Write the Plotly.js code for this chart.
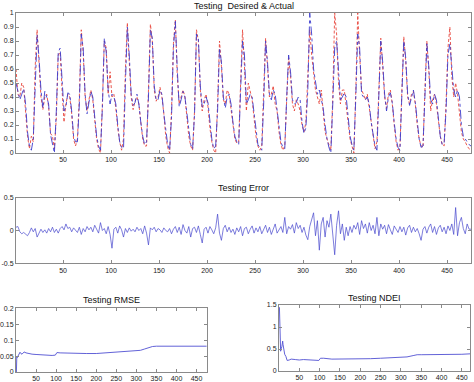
<!DOCTYPE html>
<html>
<head>
<meta charset="utf-8">
<script src="https://cdn.plot.ly/plotly-3.0.1.min.js"></script>
<style>html,body{margin:0;padding:0;background:#fff;}#chart{width:474px;height:382px;}</style>
</head>
<body>
<div id="chart"></div>
<script>
// Samples are plotted at every second index (1, 3, 5, ... 475)
const sampleStart = 1;
const sampleStep = 2;

const desired = [
  0.60,0.42,0.40,0.50,0.47,0.32,0.12,0.03,0.12,0.08,
  0.62,0.88,0.66,0.40,0.31,0.40,0.42,0.33,0.14,0.12,
  0.03,0.25,0.70,0.72,0.45,0.22,0.35,0.42,0.40,0.28,
  0.10,0.05,0.10,0.40,0.88,0.72,0.40,0.30,0.38,0.45,
  0.38,0.25,0.10,0.03,0.00,0.35,0.80,0.75,0.42,0.58,
  0.40,0.42,0.32,0.18,0.08,0.02,0.10,0.60,0.93,0.65,
  0.40,0.31,0.37,0.40,0.35,0.22,0.10,0.05,0.05,0.45,
  0.92,0.80,0.45,0.37,0.40,0.47,0.40,0.28,0.12,0.04,
  0.00,0.30,0.78,0.95,0.55,0.35,0.40,0.45,0.40,0.28,
  0.12,0.05,0.02,0.30,0.88,0.80,0.45,0.30,0.38,0.42,
  0.33,0.18,0.08,0.02,0.00,0.35,0.80,0.62,0.38,0.35,
  0.45,0.42,0.32,0.20,0.10,0.07,0.08,0.50,0.88,0.62,
  0.30,0.50,0.45,0.38,0.25,0.12,0.05,0.02,0.05,0.40,
  0.82,0.62,0.40,0.42,0.48,0.35,0.30,0.15,0.06,0.02,
  0.05,0.38,0.68,0.55,0.35,0.30,0.38,0.35,0.30,0.20,
  0.15,0.22,0.50,0.88,0.70,0.55,0.45,0.40,0.35,0.45,
  0.30,0.15,0.10,0.05,0.02,0.40,1.00,0.85,0.50,0.35,
  0.45,0.45,0.35,0.22,0.10,0.04,0.00,0.45,1.00,0.70,
  0.45,0.42,0.38,0.42,0.32,0.20,0.10,0.03,0.08,0.45,
  0.82,0.62,0.40,0.32,0.42,0.45,0.35,0.20,0.08,0.02,
  0.05,0.45,0.83,0.65,0.40,0.35,0.42,0.44,0.35,0.20,
  0.10,0.05,0.04,0.45,0.80,0.60,0.30,0.38,0.42,0.35,
  0.22,0.12,0.06,0.05,0.35,0.75,0.90,0.55,0.40,0.50,
  0.42,0.30,0.15,0.10,0.08,0.05,0.03,0.02
];

const actual = [
  0.50,0.45,0.38,0.42,0.46,0.35,0.15,0.05,0.02,0.10,
  0.55,0.84,0.68,0.45,0.32,0.44,0.40,0.35,0.13,0.05,
  0.00,0.30,0.72,0.75,0.50,0.30,0.33,0.43,0.42,0.30,
  0.12,0.08,0.08,0.35,0.85,0.75,0.42,0.28,0.36,0.44,
  0.40,0.25,0.12,0.05,0.02,0.32,0.82,0.72,0.45,0.35,
  0.42,0.40,0.35,0.20,0.08,0.04,0.03,0.50,0.90,0.70,
  0.42,0.34,0.36,0.42,0.35,0.22,0.12,0.06,0.08,0.40,
  0.88,0.82,0.48,0.38,0.38,0.45,0.42,0.28,0.15,0.06,
  0.02,0.25,0.75,0.94,0.60,0.33,0.38,0.44,0.40,0.28,
  0.15,0.06,0.03,0.28,0.85,0.82,0.48,0.33,0.35,0.40,
  0.36,0.20,0.10,0.03,0.05,0.30,0.75,0.65,0.40,0.32,
  0.40,0.42,0.35,0.22,0.12,0.08,0.06,0.45,0.80,0.70,
  0.35,0.38,0.42,0.40,0.28,0.15,0.06,0.04,0.02,0.35,
  0.80,0.65,0.42,0.38,0.45,0.42,0.30,0.18,0.08,0.04,
  0.03,0.40,0.70,0.58,0.38,0.35,0.36,0.40,0.38,0.22,
  0.14,0.18,0.45,1.00,0.85,0.60,0.50,0.42,0.45,0.38,
  0.32,0.20,0.10,0.04,0.00,0.35,0.75,0.80,0.55,0.38,
  0.40,0.43,0.40,0.25,0.12,0.06,0.02,0.40,0.85,0.75,
  0.42,0.40,0.38,0.40,0.35,0.22,0.12,0.05,0.02,0.40,
  0.80,0.65,0.42,0.30,0.40,0.43,0.36,0.22,0.10,0.04,
  0.02,0.42,0.80,0.68,0.42,0.34,0.40,0.45,0.36,0.22,
  0.10,0.04,0.05,0.40,0.78,0.62,0.38,0.35,0.42,0.38,
  0.25,0.12,0.06,0.07,0.30,0.70,0.78,0.60,0.45,0.40,
  0.45,0.40,0.20,0.12,0.10,0.08,0.06,0.05
];

const testError = [
  0.05,0.06,-0.02,-0.05,-0.03,-0.06,-0.08,-0.03,0.04,-0.02,
  0.03,-0.10,-0.04,0.02,-0.03,0.01,-0.04,0.03,-0.02,0.05,
  -0.03,0.02,-0.04,0.03,0.06,0.01,0.10,0.03,0.05,-0.02,
  0.04,0.01,-0.03,0.05,-0.06,0.03,-0.02,0.06,0.01,0.05,
  -0.02,0.08,0.02,-0.04,0.12,0.00,0.03,-0.05,0.06,-0.06,
  -0.27,0.02,0.05,-0.04,0.07,0.01,-0.10,0.03,-0.03,0.04,
  -0.01,0.02,-0.02,0.05,0.00,0.03,-0.05,0.07,-0.04,-0.22,
  0.04,0.01,0.05,-0.02,0.03,0.01,-0.03,0.04,0.00,-0.02,
  0.03,-0.05,0.02,0.06,-0.03,0.05,-0.06,0.09,0.00,-0.04,
  0.06,-0.10,0.03,0.05,-0.03,0.07,-0.06,-0.19,0.02,0.05,
  -0.04,0.06,0.01,-0.05,0.04,0.25,-0.04,-0.15,0.03,0.08,
  -0.02,0.05,-0.03,0.02,-0.06,0.04,-0.02,0.06,-0.08,0.03,
  0.05,-0.05,0.02,0.07,-0.04,0.04,-0.02,0.06,-0.05,0.03,
  0.08,-0.03,0.05,-0.06,0.04,0.10,-0.04,0.02,0.06,-0.03,
  0.20,-0.05,0.06,0.02,0.09,-0.04,0.12,0.03,0.08,-0.03,
  0.05,-0.07,-0.14,0.06,0.18,0.27,-0.08,0.15,-0.30,0.10,
  0.20,-0.10,0.15,0.05,0.25,-0.12,-0.37,0.08,0.30,-0.05,
  0.10,-0.15,0.05,-0.08,0.06,-0.03,0.08,0.02,0.12,-0.06,
  0.15,0.03,0.10,-0.04,0.12,0.00,0.08,-0.05,0.20,-0.08,
  0.10,0.02,0.08,-0.05,0.09,0.01,-0.06,0.07,0.02,-0.03,
  0.06,-0.02,0.05,-0.07,0.04,0.08,-0.03,0.05,-0.02,0.03,
  -0.05,-0.15,0.02,0.06,-0.04,0.05,0.10,-0.03,0.06,-0.06,
  0.04,0.08,-0.02,0.05,-0.05,0.07,0.00,0.10,-0.06,0.35,
  -0.08,0.12,0.20,0.03,-0.05,0.10,0.02,0.02
];

const rmseX = [1,2,3,5,8,10,12,15,18,20,25,30,40,50,60,70,80,90,98,100,102,110,130,150,175,200,225,250,275,300,310,320,330,335,340,350,375,400,425,450,475];
const rmseY = [0.0,0.048,0.045,0.05,0.055,0.062,0.058,0.056,0.06,0.063,0.06,0.058,0.056,0.055,0.054,0.053,0.052,0.052,0.053,0.059,0.061,0.06,0.059,0.058,0.058,0.058,0.06,0.062,0.063,0.066,0.068,0.072,0.076,0.078,0.08,0.081,0.081,0.08,0.08,0.08,0.081];

const ndeiX = [1,2,3,4,5,7,9,10,12,14,17,20,25,30,40,50,60,75,90,98,102,110,130,150,175,200,225,250,275,300,315,330,340,350,400,450,470];
const ndeiY = [1.45,1.2,0.7,0.45,0.5,0.55,0.68,0.6,0.45,0.38,0.33,0.24,0.25,0.27,0.26,0.25,0.26,0.25,0.25,0.24,0.29,0.29,0.27,0.27,0.27,0.27,0.28,0.29,0.3,0.31,0.32,0.35,0.37,0.37,0.37,0.38,0.39];

const xTicks = [50,100,150,200,250,300,350,400,450];
const errTickVals = [-0.5, 0, 0.5];
const errTickText = ['-0.5', '0', '0.5'];

const titles = ['Testing  Desired & Actual', 'Testing Error', 'Testing RMSE', 'Testing NDEI'];

const sampleX = desired.map((_, i) => sampleStart + sampleStep * i);

const W = 474, H = 382;
const px = v => v / W;
const py = v => (H - v) / H;

const FONT = 'Liberation Sans, Arial, sans-serif';
const frame = '#8a8a8a';
const tickFont = {family: FONT, size: 7, color: '#222'};

function ax(extra) {
  return Object.assign({
    showline: true, linecolor: frame, linewidth: 1, mirror: 'ticks',
    ticks: 'inside', ticklen: 3, tickcolor: frame, tickwidth: 1,
    showgrid: false, zeroline: false, tickfont: tickFont, fixedrange: true
  }, extra);
}

const red = 'rgb(232,70,60)';
const blue = 'rgb(60,60,205)';

const traces = [
  {x: sampleX, y: desired, xaxis: 'x', yaxis: 'y', mode: 'lines', line: {color: red, width: 0.9, dash: '3px,2px'}, hoverinfo: 'skip'},
  {x: sampleX, y: actual, xaxis: 'x', yaxis: 'y', mode: 'lines', line: {color: blue, width: 0.9, dash: 'dashdot'}, hoverinfo: 'skip'},
  {x: sampleX, y: testError, xaxis: 'x2', yaxis: 'y2', mode: 'lines', line: {color: 'rgb(70,70,205)', width: 0.7}, hoverinfo: 'skip'},
  {x: rmseX, y: rmseY, xaxis: 'x3', yaxis: 'y3', mode: 'lines', line: {color: 'rgb(80,80,210)', width: 0.9}, hoverinfo: 'skip'},
  {x: ndeiX, y: ndeiY, xaxis: 'x4', yaxis: 'y4', mode: 'lines', line: {color: 'rgb(80,80,210)', width: 0.9}, hoverinfo: 'skip'}
];

const layout = {
  width: W, height: H,
  margin: {l: 0, r: 0, t: 0, b: 0},
  paper_bgcolor: '#fff', plot_bgcolor: '#fff',
  showlegend: false,
  font: {family: FONT, color: '#222'},
  xaxis: ax({domain: [px(16), px(471)], range: [1, 475], tickvals: xTicks, anchor: 'y'}),
  yaxis: ax({domain: [py(153), py(13)], range: [0, 1], dtick: 0.1, tick0: 0, anchor: 'x'}),
  xaxis2: ax({domain: [px(16), px(471)], range: [1, 475], tickvals: xTicks, anchor: 'y2'}),
  yaxis2: ax({domain: [py(263.3), py(197.7)], range: [-0.5, 0.5], tickvals: errTickVals, ticktext: errTickText, anchor: 'x2'}),
  xaxis3: ax({domain: [px(16), px(207)], range: [0, 476], tickvals: xTicks, anchor: 'y3'}),
  yaxis3: ax({domain: [py(372), py(308.3)], range: [0, 0.2], dtick: 0.05, tick0: 0, anchor: 'x3'}),
  xaxis4: ax({domain: [px(279), px(470)], range: [0, 470], tickvals: xTicks, anchor: 'y4'}),
  yaxis4: ax({domain: [py(371), py(305)], range: [0, 1.5], dtick: 0.5, tick0: 0, anchor: 'x4'}),
  annotations: [
    {text: titles[0], x: px(243.5), y: py(6), xref: 'paper', yref: 'paper', xanchor: 'center', yanchor: 'middle', showarrow: false, font: {family: FONT, size: 9, color: '#111'}},
    {text: titles[1], x: px(243.5), y: py(188), xref: 'paper', yref: 'paper', xanchor: 'center', yanchor: 'middle', showarrow: false, font: {family: FONT, size: 9, color: '#111'}},
    {text: titles[2], x: px(111.5), y: py(300), xref: 'paper', yref: 'paper', xanchor: 'center', yanchor: 'middle', showarrow: false, font: {family: FONT, size: 9, color: '#111'}},
    {text: titles[3], x: px(374.5), y: py(297.5), xref: 'paper', yref: 'paper', xanchor: 'center', yanchor: 'middle', showarrow: false, font: {family: FONT, size: 9, color: '#111'}}
  ]
};

Plotly.newPlot('chart', traces, layout, {displayModeBar: false, staticPlot: true});
</script>
</body>
</html>
